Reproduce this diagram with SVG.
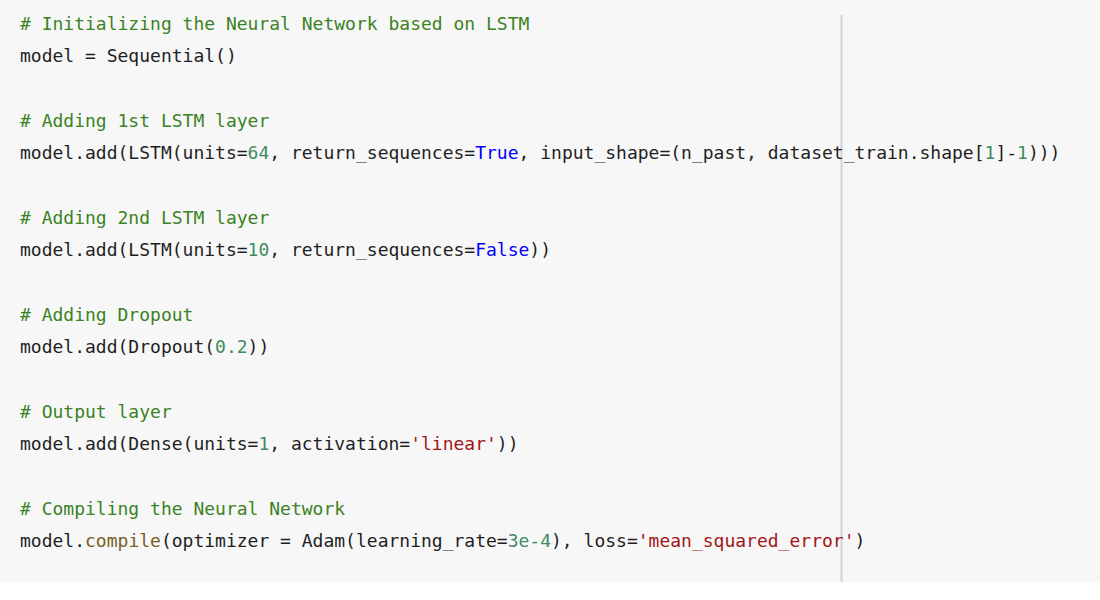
<svg xmlns="http://www.w3.org/2000/svg" width="1100" height="600" viewBox="0 0 1100 600">
<style>
text{font-family:"DejaVu Sans Mono","Liberation Mono",monospace;font-size:18px;fill:#1f1f1f;white-space:pre}
.c{fill:#3b8224}.n{fill:#3f8b5e}.k{fill:#0000ff}.s{fill:#a31515}.f{fill:#795e26}
</style>
<rect x="0" y="0" width="1100" height="600" fill="#ffffff"/>
<rect x="0" y="0" width="1100" height="582" fill="#f7f7f7"/>
<line x1="841.5" y1="15" x2="841.5" y2="582" stroke="#d4d4d4" stroke-width="2"/>
<g id="code">
<text x="20" y="30" class="c"># Initializing the Neural Network based on LSTM</text>
<text x="20" y="62">model = Sequential()</text>
<text x="20" y="127" class="c"># Adding 1st LSTM layer</text>
<text x="20" y="159">model.add(LSTM(units=<tspan class="n">64</tspan>, return_sequences=<tspan class="k">True</tspan>, input_shape=(n_past, dataset_train.shape[<tspan class="n">1</tspan>]-<tspan class="n">1</tspan>)))</text>
<text x="20" y="224" class="c"># Adding 2nd LSTM layer</text>
<text x="20" y="256">model.add(LSTM(units=<tspan class="n">10</tspan>, return_sequences=<tspan class="k">False</tspan>))</text>
<text x="20" y="321" class="c"># Adding Dropout</text>
<text x="20" y="353">model.add(Dropout(<tspan class="n">0.2</tspan>))</text>
<text x="20" y="418" class="c"># Output layer</text>
<text x="20" y="450">model.add(Dense(units=<tspan class="n">1</tspan>, activation=<tspan class="s">'linear'</tspan>))</text>
<text x="20" y="515" class="c"># Compiling the Neural Network</text>
<text x="20" y="547">model.<tspan class="f">compile</tspan>(optimizer = Adam(learning_rate=<tspan class="n">3e-4</tspan>), loss=<tspan class="s">'mean_squared_error'</tspan>)</text>
</g>
</svg>
